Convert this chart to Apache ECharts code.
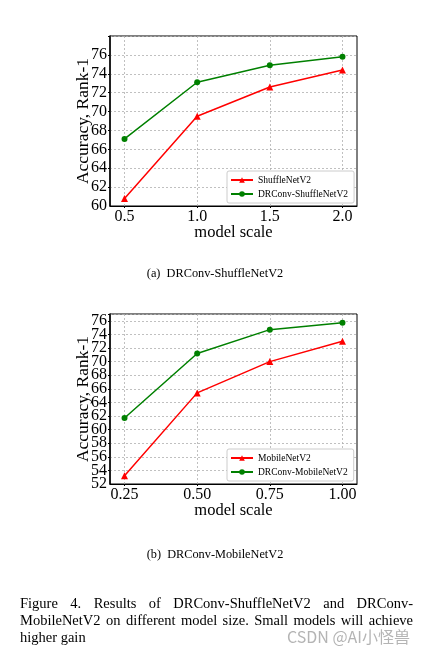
<!DOCTYPE html>
<html><head><meta charset="utf-8">
<script src="https://cdn.jsdelivr.net/npm/echarts@6/dist/echarts.min.js"></script>
<style>html,body{margin:0;padding:0;background:#fff}#c{width:430px;height:657px}</style>
</head><body><div id="c"></div>
<script>
// ---- data ----
const scalesA = [0.5, 1.0, 1.5, 2.0];
const shuffleNetV2 = [60.8, 69.5, 72.6, 74.4];
const drconvShuffleNetV2 = [67.1, 73.1, 74.9, 75.8];
const xTicksA = [0.5, 1.0, 1.5, 2.0];

const scalesB = [0.25, 0.50, 0.75, 1.00];
const mobileNetV2 = [53.2, 65.4, 70.0, 73.0];
const drconvMobileNetV2 = [61.7, 71.2, 74.7, 75.7];
const xTicksB = [0.25, 0.50, 0.75, 1.00];

const captionA = '(a)  DRConv-ShuffleNetV2';
const captionB = '(b)  DRConv-MobileNetV2';
const figLines = [
  'Figure 4. Results of DRConv-ShuffleNetV2 and DRConv-',
  'MobileNetV2 on different model size. Small models will achieve',
  'higher gain'
];
const watermark = 'CSDN @AI小怪兽';

// ---- styling helpers ----
const SERIF = '"Liberation Serif", "DejaVu Serif", serif';
const RED = '#ff0000', GREEN = '#008000';

function xAxisCfg(idx, min, max, ticks, digits) {
  return {
    type: 'value', gridIndex: idx, min: min, max: max,
    name: 'model scale', nameLocation: 'middle', nameGap: 18, nameMoveOverlap: false,
    nameTextStyle: { fontFamily: SERIF, fontSize: 16.5, color: '#000' },
    axisLine: { show: true, onZero: false, lineStyle: { color: '#000', width: 1 } },
    axisTick: { show: true, length: 2, customValues: ticks, lineStyle: { color: '#000' } },
    axisLabel: { customValues: ticks, margin: 3, fontFamily: SERIF, fontSize: 16, color: '#000',
      hideOverlap: false, formatter: v => Number(v).toFixed(digits) },
    splitLine: { show: true, customValues: ticks, lineStyle: { color: '#b0b0b0', type: [2, 2], width: 0.8 } }
  };
}
function yAxisCfg(idx, min, max) {
  return {
    type: 'value', gridIndex: idx, min: min, max: max, interval: 2,
    name: 'Accuracy, Rank-1', nameLocation: 'middle', nameGap: 18, nameMoveOverlap: false,
    nameTextStyle: { fontFamily: SERIF, fontSize: 17.5, color: '#000' },
    axisLine: { show: true, lineStyle: { color: '#000', width: 1.5 } },
    axisTick: { show: true, length: 2, lineStyle: { color: '#000' } },
    axisLabel: { margin: 3, fontFamily: SERIF, fontSize: 16, color: '#000',
      showMinLabel: false, hideOverlap: false,
      formatter: v => (v % 2 === 0 && v < max) ? String(v) : '' },
    splitLine: { show: true, lineStyle: { color: '#b0b0b0', type: [2, 2], width: 0.8 } }
  };
}
// auxiliary axis that carries only the bottom (min) tick label
function yAxisMinLabel(idx, min, max) {
  return {
    type: 'value', gridIndex: idx, min: min, max: max, interval: 2, position: 'left',
    axisLine: { show: false }, axisTick: { show: false }, splitLine: { show: false },
    axisLabel: { margin: 3, fontFamily: SERIF, fontSize: 16, color: '#000',
      showMinLabel: true, showMaxLabel: false, hideOverlap: false,
      formatter: v => (v === min) ? String(v) : '' }
  };
}
function lineSeries(name, xs, ys, idx, color, symbol, size) {
  return {
    name: name, type: 'line', xAxisIndex: idx, yAxisIndex: idx,
    data: xs.map((x, i) => [x, ys[i]]),
    symbol: symbol, symbolSize: size, showSymbol: true,
    lineStyle: { color: color, width: 1.5 }, itemStyle: { color: color },
    emphasis: { disabled: true }, animation: false
  };
}
function legendCfg(names, left, top) {
  return {
    data: names, left: left, top: top, width: 125, orient: 'vertical',
    itemWidth: 22, itemHeight: 7, itemGap: 4,
    padding: [4, 6, 4, 3],
    backgroundColor: '#fff', borderColor: '#cccccc', borderWidth: 1, borderRadius: 2,
    textStyle: { fontFamily: SERIF, fontSize: 9.5, color: '#000' },
    selectedMode: false
  };
}

// ---- justified caption via measured text ----
const FIGFONT_SIZE = 14.5;
const ctx = document.createElement('canvas').getContext('2d');
ctx.font = FIGFONT_SIZE + 'px "Liberation Serif"';
const LEFT = 20, RIGHT = 413, lineYs = [605, 622, 639];
const graphics = [];
figLines.forEach((line, li) => {
  const words = line.split(' ');
  const justify = li < figLines.length - 1;
  const widths = words.map(w => ctx.measureText(w).width);
  const total = widths.reduce((a, b) => a + b, 0);
  const gap = justify ? (RIGHT - LEFT - total) / (words.length - 1) : ctx.measureText(' ').width;
  let x = LEFT;
  words.forEach((w, i) => {
    graphics.push({ type: 'text', left: x, top: lineYs[li] - 8,
      style: { text: w, font: FIGFONT_SIZE + 'px "Liberation Serif"', fill: '#000' } });
    x += widths[i] + gap;
  });
});
graphics.push({ type: 'text', left: 287, top: 629,
  style: { text: watermark, font: '16px "Noto Sans CJK SC", "Noto Sans", sans-serif', fill: '#b4b4b4' } });

const chart = echarts.init(document.getElementById('c'), null, { renderer: 'canvas' });
chart.setOption({
  animation: false,
  backgroundColor: '#fff',
  title: [
    { text: captionA, left: 'center', top: 263, textStyle: { fontFamily: SERIF, fontSize: 12.3, fontWeight: 'normal', color: '#000' } },
    { text: captionB, left: 'center', top: 544, textStyle: { fontFamily: SERIF, fontSize: 12.3, fontWeight: 'normal', color: '#000' } }
  ],
  grid: [
    { left: 110, top: 36, width: 247, height: 170, show: true, borderColor: '#000', borderWidth: 1, containLabel: false },
    { left: 110, top: 314, width: 247, height: 170, show: true, borderColor: '#000', borderWidth: 1, containLabel: false }
  ],
  xAxis: [ xAxisCfg(0, 0.4, 2.1, xTicksA, 1), xAxisCfg(1, 0.2, 1.05, xTicksB, 2) ],
  yAxis: [ yAxisCfg(0, 60, 78), yAxisCfg(1, 52, 77), yAxisMinLabel(0, 60, 78), yAxisMinLabel(1, 52, 77) ],
  legend: [
    legendCfg(['ShuffleNetV2', 'DRConv-ShuffleNetV2'], 227, 171),
    legendCfg(['MobileNetV2', 'DRConv-MobileNetV2'], 227, 449)
  ],
  series: [
    lineSeries('ShuffleNetV2', scalesA, shuffleNetV2, 0, RED, 'triangle', 7),
    lineSeries('DRConv-ShuffleNetV2', scalesA, drconvShuffleNetV2, 0, GREEN, 'circle', 6),
    lineSeries('MobileNetV2', scalesB, mobileNetV2, 1, RED, 'triangle', 7),
    lineSeries('DRConv-MobileNetV2', scalesB, drconvMobileNetV2, 1, GREEN, 'circle', 6)
  ],
  graphic: graphics
});
</script></body></html>
